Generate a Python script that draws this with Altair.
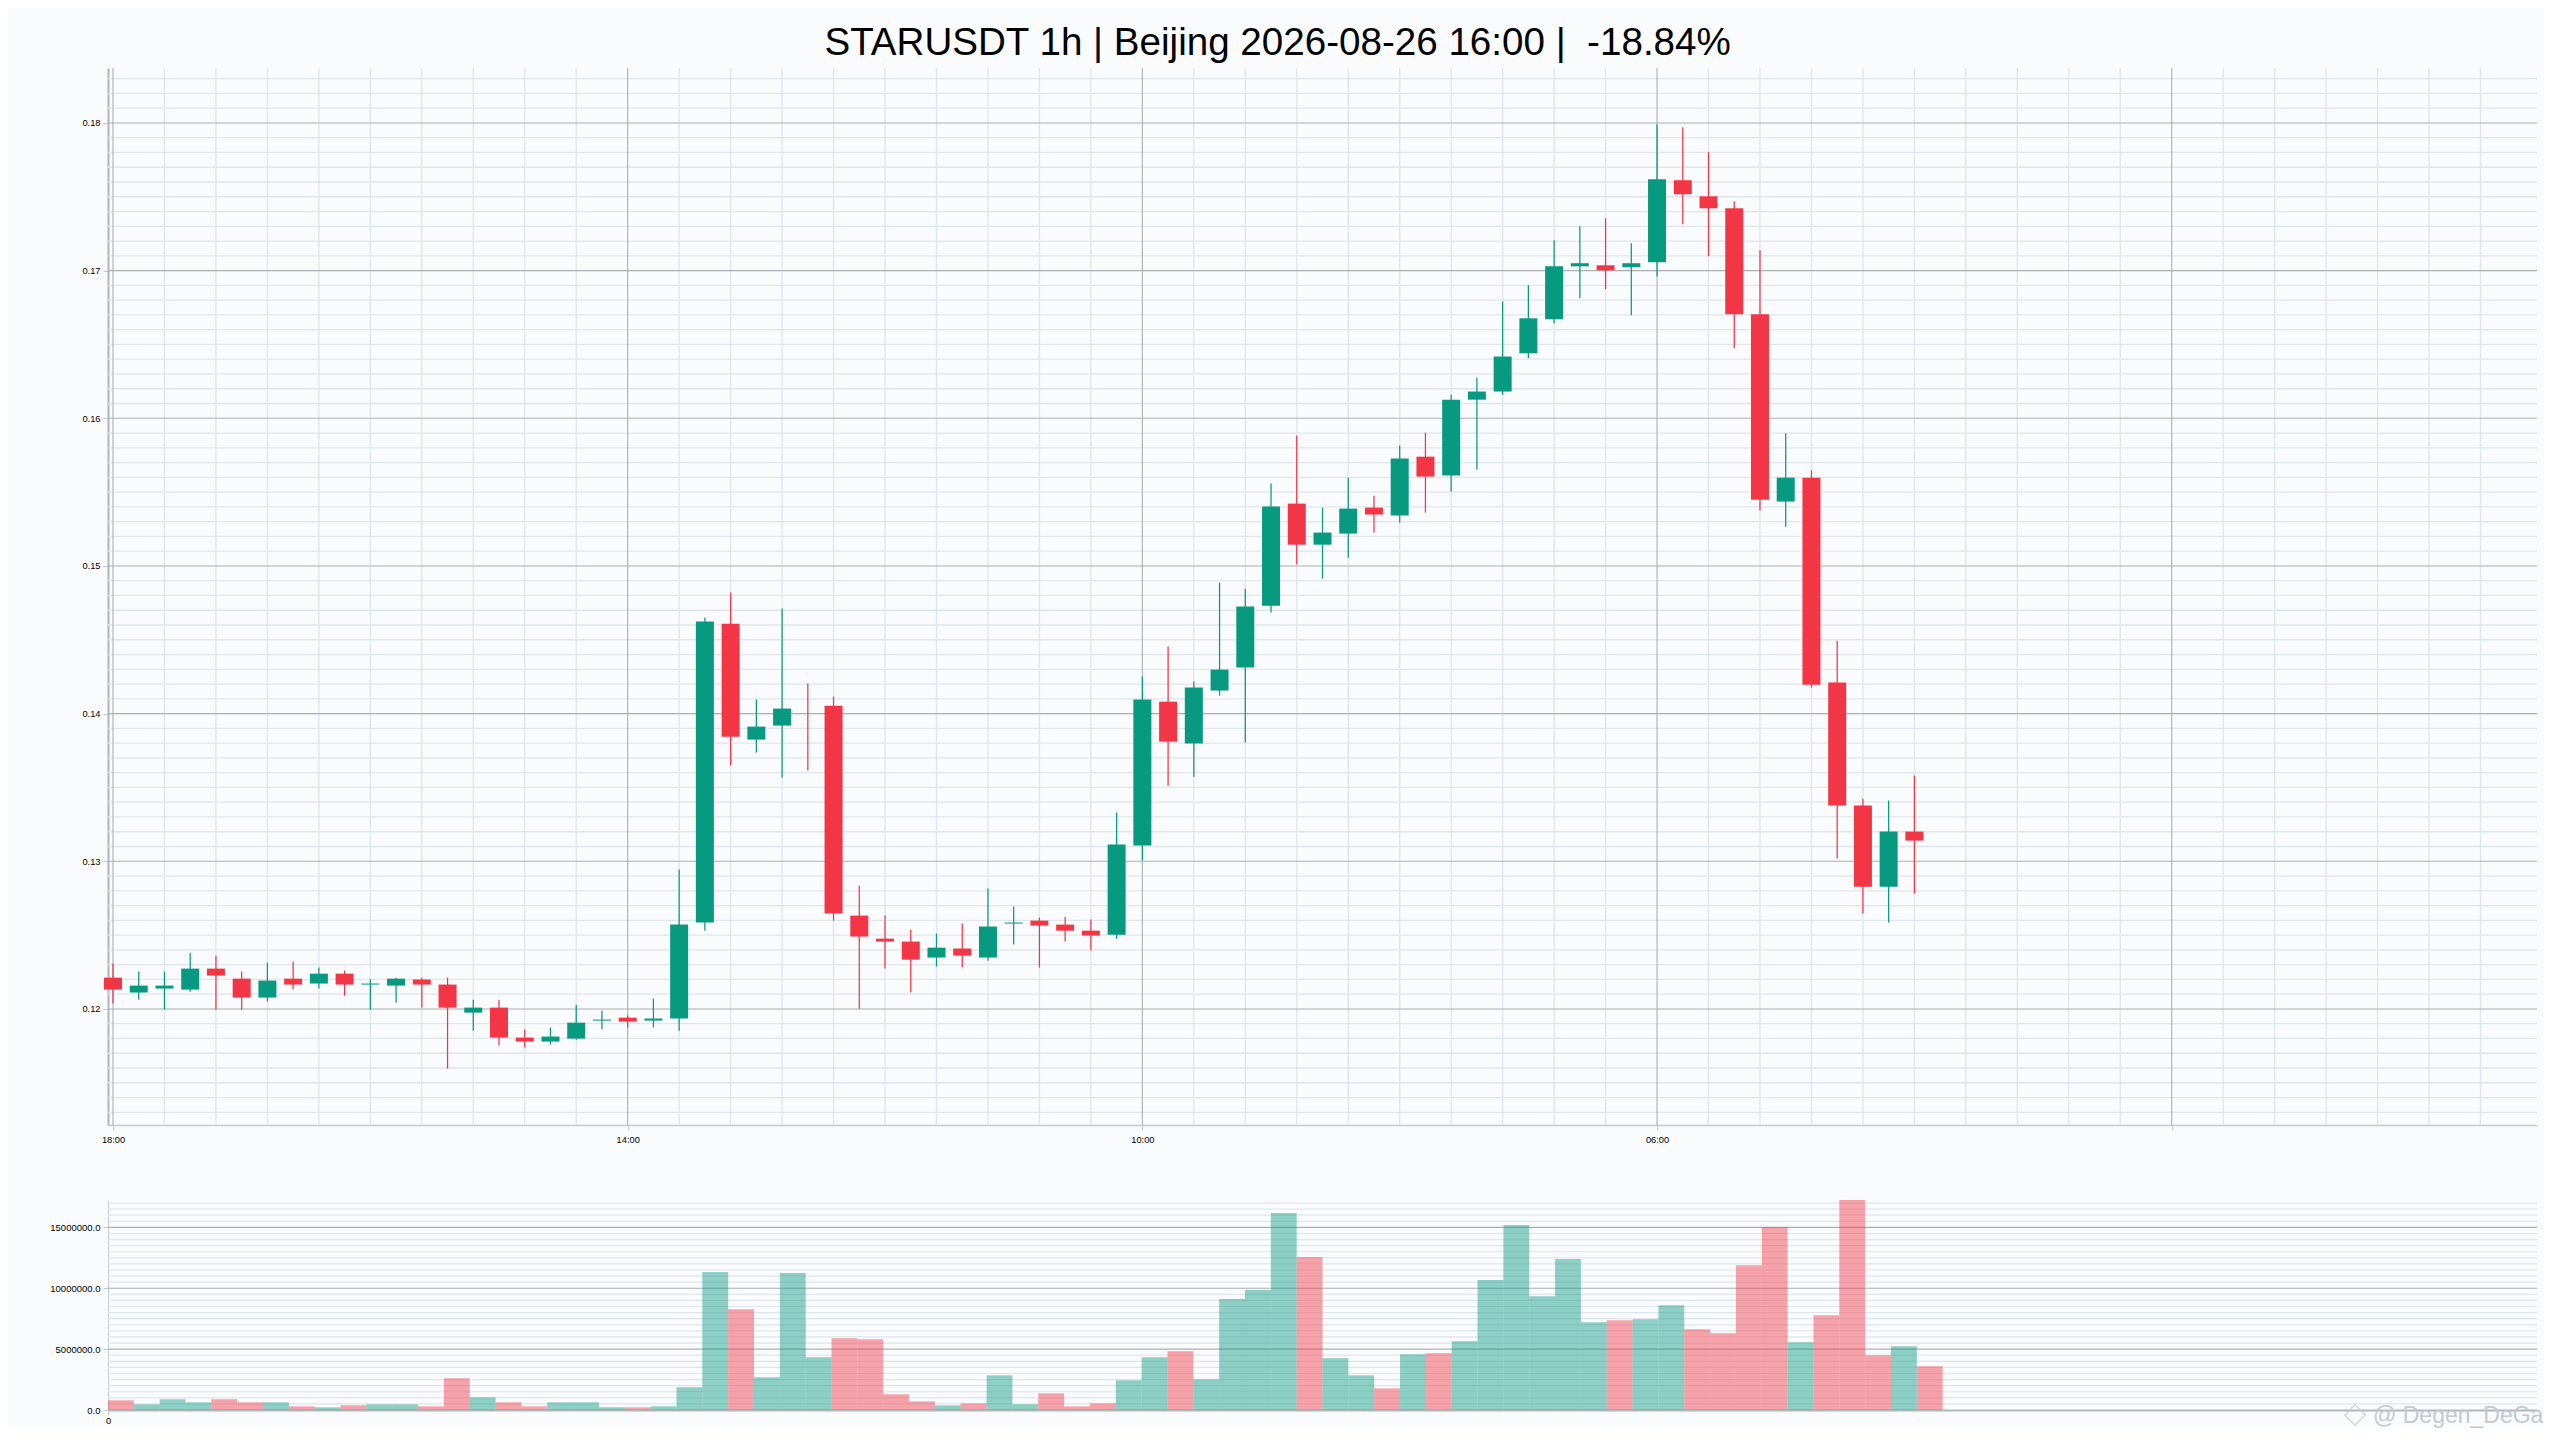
import altair as alt
import pandas as pd

opens = [.12212,.12111,.12138,.12131,.12273,.12205,.12077,.12205,.12172,.12239,.12165,.12158,.12199,.12165,.11975,.12009,.11806,.11779,.11799,.11921,.11941,.11921,.11935,.12585,.14609,.13824,.13919,.14034,.14054,.12632,.12476,.12456,.12348,.12409,.12348,.12578,.12598,.12571,.12530,.12503,.13106,.14081,.13797,.14156,.14312,.14731,.15422,.15144,.15219,.15395,.15341,.15740,.15612,.16126,.16181,.16440,.16670,.17029,.17036,.17023,.17056,.17612,.17503,.17422,.16704,.15436,.15598,.14210,.13377,.12828,.13201]
closes = [.12131,.12158,.12158,.12273,.12226,.12077,.12192,.12165,.12239,.12165,.12172,.12205,.12165,.12009,.12009,.11806,.11779,.11813,.11907,.11928,.11914,.11935,.12571,.14623,.13844,.13912,.14034,.14034,.12646,.12490,.12456,.12334,.12415,.12361,.12558,.12585,.12564,.12530,.12497,.13113,.14095,.13810,.14176,.14298,.14725,.15402,.15144,.15226,.15388,.15348,.15727,.15605,.16126,.16181,.16418,.16677,.17029,.17050,.17002,.17050,.17619,.17517,.17422,.16704,.15449,.15598,.14196,.13377,.12828,.13201,.13140]
highs = [.12307,.12253,.12253,.12381,.12361,.12253,.12314,.12321,.12280,.12260,.12199,.12212,.12212,.12212,.12063,.12063,.11860,.11874,.12029,.11989,.11955,.12070,.12944,.14650,.14819,.14095,.14711,.14203,.14115,.12835,.12632,.12537,.12510,.12578,.12815,.12693,.12619,.12625,.12605,.13330,.14251,.14454,.14217,.14887,.14846,.15558,.15883,.15395,.15598,.15476,.15815,.15903,.16160,.16275,.16790,.16901,.17205,.17300,.17354,.17185,.17991,.17971,.17801,.17470,.17138,.15898,.15646,.14494,.13424,.13411,.13580]
lows = [.12036,.12063,.11995,.12117,.11995,.11995,.12050,.12131,.12138,.12090,.11995,.12043,.12009,.11596,.11853,.11752,.11738,.11758,.11792,.11860,.11874,.11874,.11853,.12530,.13648,.13736,.13567,.13614,.12598,.12002,.12273,.12111,.12287,.12280,.12327,.12436,.12280,.12456,.12395,.12476,.13005,.13512,.13573,.14122,.13804,.14684,.15009,.14914,.15056,.15226,.15293,.15361,.15503,.15652,.16160,.16406,.16643,.16813,.16874,.16698,.16962,.17314,.17097,.16474,.15375,.15266,.14176,.13018,.12646,.12585,.12781]
volumes = [795000,466000,878000,630000,878000,630000,630000,300000,220000,380000,466000,466000,300000,2606000,1042000,630000,300000,630000,630000,220000,220000,300000,1865000,11330000,8280000,2690000,11250000,4330000,5900000,5820000,1290000,710000,380000,550000,2850000,470000,1370000,300000,550000,2440000,4330000,4830000,2520000,9110000,9850000,16180000,12560000,4250000,2850000,1780000,4580000,4660000,5650000,10670000,15200000,9350000,12400000,7210000,7380000,7460000,8610000,6640000,6310000,11900000,15030000,5570000,7790000,17250000,4500000,5240000,3590000]

price_ticks = [0.12, 0.13, 0.14, 0.15, 0.16, 0.17, 0.18]
time_ticks = [0, 20, 40, 60, 80]
time_labels = ["18:00", "14:00", "10:00", "06:00", ""]
volume_ticks = [0, 5000000, 10000000, 15000000]
TITLE = "STARUSDT 1h | Beijing 2026-08-26 16:00 | \u00a0-18.84%"
WATERMARK = "@ Degen_DeGa"

UP, DOWN = "#089981", "#F23645"
BG = "#F9FBFD"
MAJOR, MINOR = "#ABAFB4", "#DFE5EC"
FONT = "Liberation Sans"

W, H1, H2 = 2429, 1057, 210
XMAX = 94
idx = list(range(len(opens)))
df = pd.DataFrame({
    "i": idx, "i1": [i + 1 for i in idx],
    "open": opens, "close": closes, "high": highs, "low": lows, "volume": volumes,
    "base": [0 for _ in idx],
    "candle": ["up" if c > o else "down" for o, c in zip(opens, closes)],
    "vol": ["up" if c >= o else "down" for o, c in zip(opens, closes)],
})

xscale = alt.Scale(domain=[0, XMAX], nice=False, zero=False)
yscale = alt.Scale(domain=[0.11214, 0.18372], nice=False, zero=False)
vscale = alt.Scale(domain=[0, 17250000], nice=False, zero=True)
cscale = alt.Scale(domain=["up", "down"], range=[UP, DOWN])

minor_p = [round(0.113 + k * 0.001, 3) for k in range(71)]
minor_p = [p for p in minor_p if p not in price_ticks]
minor_x = [k for k in range(0, XMAX, 2) if k not in time_ticks]
minor_v = [k * 500000 for k in range(1, 35) if k % 10 != 0]

label_expr = "{" + ",".join(f"'{t}':'{l}'" for t, l in zip(time_ticks, time_labels)) + "}[datum.value]"
xaxis_price = alt.Axis(
    values=time_ticks, labelExpr=label_expr, grid=False, title=None,
    domainColor="#BFCAD4", domainWidth=1.5, tickColor="#BFCAD4", tickSize=5,
    labelFont=FONT, labelFontSize=9.3, labelColor="#000000", labelPadding=5, labelFlush=False)
yaxis_price = alt.Axis(
    values=price_ticks, format=".2f", grid=False, title=None,
    domainColor="#B0B5BB", domainWidth=2, tickColor="#BFC7D0", tickSize=5,
    labelFont=FONT, labelFontSize=9.3, labelColor="#000000", labelPadding=3)
xaxis_vol = alt.Axis(
    values=[0], format="d", grid=False, title=None,
    domainColor="#B0B8BF", domainWidth=2, tickColor="#BFCAD4", tickSize=5,
    labelFont=FONT, labelFontSize=9.3, labelColor="#000000", labelPadding=1, labelFlush=False)
yaxis_vol = alt.Axis(
    values=volume_ticks, format=".1f", grid=False, title=None,
    domainColor="#C2CBD4", domainWidth=1, tickColor="#C2CBD4", tickSize=5,
    labelFont=FONT, labelFontSize=9.5, labelColor="#000000", labelPadding=3)


def hrules(vals, scale, axis, color, width):
    return alt.Chart(pd.DataFrame({"v": vals})).mark_rule(color=color, strokeWidth=width).encode(
        y=alt.Y("v:Q", scale=scale, axis=axis))


def vrules(vals, axis, color, width):
    return alt.Chart(pd.DataFrame({"v": vals})).mark_rule(color=color, strokeWidth=width).encode(
        x=alt.X("v:Q", scale=xscale, axis=axis))


wicks = alt.Chart(df).mark_rule(strokeWidth=1.25).encode(
    x=alt.X("i:Q", scale=xscale, axis=xaxis_price),
    y=alt.Y("high:Q", scale=yscale, axis=yaxis_price),
    y2="low:Q",
    color=alt.Color("candle:N", scale=cscale, legend=None),
)
bodies = alt.Chart(df).mark_bar(size=18, clip=False).encode(
    x=alt.X("i:Q", scale=xscale, axis=xaxis_price),
    y=alt.Y("open:Q", scale=yscale, axis=yaxis_price),
    y2="close:Q",
    color=alt.Color("candle:N", scale=cscale, legend=None),
)
price = alt.layer(
    hrules(minor_p, yscale, yaxis_price, MINOR, 1.3), vrules(minor_x, xaxis_price, MINOR, 1.3),
    hrules(price_ticks, yscale, yaxis_price, MAJOR, 1.1), vrules(time_ticks, xaxis_price, MAJOR, 1.1),
    wicks, bodies,
).properties(width=W, height=H1)

vol_bars = alt.Chart(df).mark_bar(opacity=0.45).encode(
    x=alt.X("i:Q", scale=xscale, axis=xaxis_vol),
    x2="i1:Q",
    y=alt.Y("volume:Q", scale=vscale, axis=yaxis_vol),
    y2="base:Q",
    color=alt.Color("vol:N", scale=cscale, legend=None),
)
mark_df = pd.DataFrame({"t": [WATERMARK]})
wm_text = alt.Chart(mark_df).mark_text(
    align="left", baseline="middle", font=FONT, fontSize=23, color="#C4C9D0", clip=False
).encode(x=alt.value(2265), y=alt.value(216), text="t:N")
wm_logo = alt.Chart(mark_df).mark_point(
    shape="diamond", size=420, filled=False, color="#C4C9D0", strokeWidth=1.5, clip=False
).encode(x=alt.value(2247), y=alt.value(215))
volume = alt.layer(
    hrules(minor_v, vscale, yaxis_vol, MINOR, 1.2), hrules(volume_ticks[1:], vscale, yaxis_vol, MAJOR, 1.1),
    vol_bars, wm_logo, wm_text,
).properties(width=W, height=H2)

chart = alt.vconcat(price, volume, spacing=75, bounds="flush").properties(
    background=BG,
    padding={"left": 41, "top": 16, "right": 0, "bottom": -1},
    title=alt.TitleParams(TITLE, font=FONT, fontSize=38.6, fontWeight="normal", color="#000000",
                          anchor="middle", offset=3.5, dx=-19),
).configure_view(stroke=None)

chart.save("out.html", embed_options={"renderer": "svg", "actions": False})
